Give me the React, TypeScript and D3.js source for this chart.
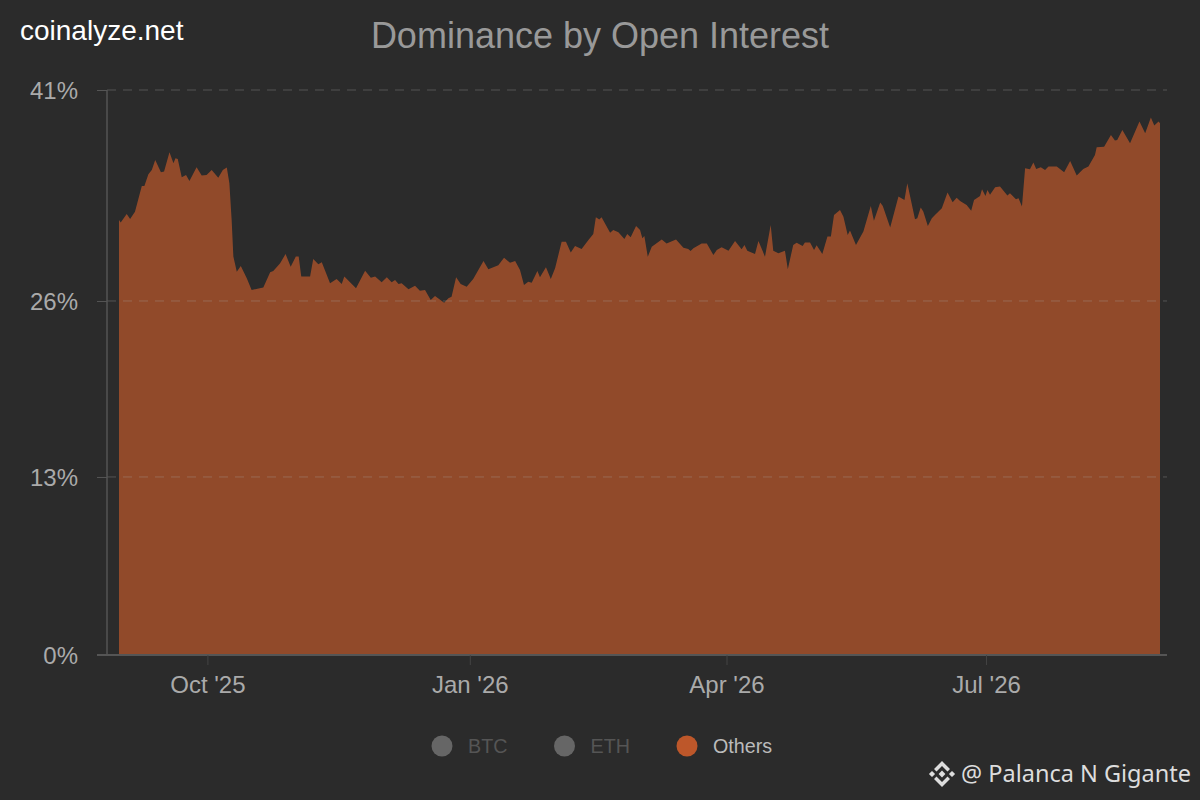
import { useEffect, useRef } from 'react';
import * as d3 from 'd3';

// days since the first sample (31 Aug 2025)
const dayOffsets = [
  0, 0.6, 2.7, 3.9, 5.6, 8, 8.9, 10.3, 11.5, 12.7, 14.7, 15.8, 17.7, 19.1, 19.8, 20.6, 22, 23.5, 24.7, 27.2,
  29, 30.7, 32.5, 34.8, 36.4, 37.8, 38.7, 39.5, 40.1, 41.3, 42.7, 44.8, 46.5, 50.6, 53, 54.1, 56.5, 58.4, 60.2, 62,
  63, 63.9, 67, 68.1, 69.9, 71.1, 74, 76.3, 78.1, 79, 83.1, 86.3, 88.3, 89.8, 92.1, 93.9, 95.6, 96.8, 98, 99.1,
  101.5, 103.8, 105.5, 107.3, 109.3, 110.8, 114, 115.5, 116.6, 118.2, 119.8, 121.9, 124.2, 127.8, 129.5, 133, 135, 137.1, 138.9, 140.6,
  142, 143.5, 144.7, 146.7, 147.6, 149.7, 151.4, 152.9, 155.2, 156.7, 158.4, 159.9, 162.2, 164.6, 166.3, 167.2, 168.4, 169.2, 172.2, 173.3,
  175.1, 177.2, 178.2, 179.4, 181.3, 182.7, 183.5, 184.2, 185.4, 186.8, 190.3, 192, 195.3, 197.9, 199.6, 200.4, 201.4, 204.3, 206.1, 208.4,
  209.6, 211.3, 213.7, 216, 218.3, 219.3, 220.3, 223, 224.2, 226.5, 228.5, 229.4, 231.2, 233.5, 234.5, 236.4, 237.6, 239.7, 240.5, 242.3,
  243.7, 244.6, 246.6, 248.4, 249.6, 250.7, 252.8, 254, 255.5, 256.3, 258.4, 261, 263.6, 264.7, 266.9, 267.8, 270.4, 273.3, 275.4, 276.4,
  279.1, 279.9, 281.1, 282, 283.6, 285, 286.1, 288.5, 290.5, 292.3, 293.7, 294.9, 297.2, 298.8, 299.8, 301.9, 302.6, 303.8, 304.5, 305.4,
  307.2, 308.9, 311.5, 312.4, 314.5, 315.4, 316.6, 317.7, 319.4, 320.6, 321.6, 323.2, 324.7, 325.9, 328.8, 331.4, 333.5, 335.8, 338.1, 339.9,
  342.2, 342.8, 345.4, 347.8, 349.2, 350, 351.8, 354.5, 357.8, 359.8, 361.8, 363, 364.5, 365,
];

// Others' share of open interest, in %
const othersValues = [
  31.57, 31.38, 32, 31.64, 32.17, 34.04, 34.04, 34.88, 35.2, 35.92, 35.03, 35.08, 36.48, 35.68, 36.05, 36, 34.67, 34.84, 34.4, 35.39,
  34.79, 34.84, 35.2, 34.64, 35.2, 35.37, 34.23, 31.57, 28.91, 27.82, 28.23, 27.34, 26.49, 26.66, 27.77, 27.87, 28.43, 29.1, 28.18, 28.91,
  28.91, 27.46, 27.46, 28.74, 28.35, 28.5, 26.97, 27.29, 26.93, 27.46, 26.61, 27.89, 27.38, 27.46, 27.05, 27.41, 27.05, 27.22, 26.93, 26.97,
  26.54, 26.8, 26.44, 26.49, 25.77, 26.05, 25.57, 25.89, 26, 27.41, 26.92, 26.73, 27.28, 28.59, 27.99, 28.28, 28.83, 28.47, 28.59, 27.94,
  26.85, 27.09, 27.02, 27.87, 27.41, 28.13, 27.28, 28.06, 29.99, 29.99, 29.2, 29.68, 29.46, 30.11, 30.55, 31.76, 31.61, 31.76, 30.65, 30.84,
  30.67, 30.19, 30.55, 30.31, 31.13, 30.84, 30.24, 30.4, 28.9, 29.63, 30.16, 29.87, 30.16, 29.56, 29.46, 29.32, 29.51, 29.87, 29.87, 29.03,
  29.39, 29.58, 29.34, 30.04, 29.44, 29.75, 29.34, 29.1, 30.04, 28.9, 31.2, 29.34, 29.15, 29.34, 27.99, 29.75, 29.92, 29.68, 29.94, 29.93,
  29.39, 29.73, 29.1, 30.36, 30.36, 31.93, 32.3, 31.81, 30.48, 30.8, 29.76, 30.73, 32.59, 31.52, 32.83, 32.59, 31.02, 33.27, 33.02, 34.23,
  31.62, 31.69, 32.47, 32.18, 31.14, 31.69, 31.93, 32.42, 33.56, 32.85, 33.19, 32.95, 32.66, 32.23, 33.02, 33.31, 33.8, 33.31, 33.75, 33.39,
  33.94, 33.99, 33.34, 33.51, 33.07, 33.14, 32.54, 35.32, 35.25, 35.73, 35.27, 35.39, 35.2, 35.44, 35.44, 35.03, 35.85, 34.79, 35.27, 35.44,
  36.29, 36.85, 36.89, 37.74, 37.33, 37.38, 38.1, 37.14, 38.71, 37.86, 39, 38.42, 38.71, 38.59,
];

// axis breaks aren't round numbers, the labels get rounded
const yTicks = [0, 12.92, 25.69, 41];
const xTicks = [new Date(Date.UTC(2025, 9, 1)), new Date(Date.UTC(2026, 0, 1)), new Date(Date.UTC(2026, 3, 1)), new Date(Date.UTC(2026, 6, 1))];
const legendItems = ['BTC', 'ETH', 'Others'];
const legendActive = [false, false, true];

const startDate = Date.UTC(2025, 7, 31);
const DAY = 86400000;
const FONT = '"Liberation Sans", Arial, sans-serif';

export default function App() {
  const svgRef = useRef<SVGSVGElement>(null);

  useEffect(() => {
    if (!svgRef.current) return;
    const svg = d3.select(svgRef.current);
    svg.selectAll('*').remove();

    const x = d3.scaleUtc()
      .domain([new Date(startDate), new Date(startDate + 365 * DAY)])
      .range([119, 1160]);
    const y = d3.scaleLinear().domain([0, 41]).range([655, 90]);

    svg.append('rect').attr('width', 1200).attr('height', 800).attr('fill', '#2b2b2b');

    const points = dayOffsets.map((d, i) => ({ date: new Date(startDate + d * DAY), value: othersValues[i] }));

    const area = d3.area<{ date: Date; value: number }>()
      .x(d => x(d.date))
      .y0(y(0))
      .y1(d => y(d.value));

    svg.append('path')
      .datum(points)
      .attr('d', area)
      .attr('fill', '#b8562a')
      .attr('fill-opacity', 0.73);

    // Grid lines
    svg.append('g')
      .selectAll('line')
      .data(yTicks.slice(1))
      .enter().append('line')
      .attr('x1', 107)
      .attr('x2', 1167)
      .attr('y1', d => y(d))
      .attr('y2', d => y(d))
      .attr('stroke', '#aaa')
      .attr('stroke-opacity', 0.33)
      .attr('stroke-dasharray', '9,7');

    // Y Axis
    svg.append('g')
      .attr('transform', 'translate(107,0)')
      .call(d3.axisLeft(y).tickValues(yTicks).tickSize(10).tickPadding(19).tickFormat(d => `${Math.round(+d)}%`))
      .call(g => g.select('.domain').attr('stroke', '#555').attr('stroke-width', 1.5).attr('d', `M0,${y(41)}V${y(0)}`))
      .call(g => g.selectAll('.tick line').attr('stroke', '#555'))
      .call(g => g.selectAll('.tick text')
        .attr('fill', '#aaa')
        .attr('font-size', '24px')
        .attr('dy', '0.36em')
        .attr('font-family', FONT));

    // X Axis
    svg.append('g')
      .attr('transform', 'translate(0,655)')
      .call(d3.axisBottom(x).tickValues(xTicks).tickSize(10).tickPadding(11).tickFormat(d => d3.utcFormat("%b '%y")(d as Date)))
      .call(g => g.select('.domain').attr('stroke', '#555').attr('stroke-width', 2).attr('d', 'M97,0H1167'))
      .call(g => g.selectAll('.tick line').attr('stroke', '#444'))
      .call(g => g.selectAll('.tick text')
        .attr('fill', '#aaa')
        .attr('font-size', '24px')
        .attr('font-family', FONT));

    svg.append('text')
      .attr('x', 600)
      .attr('y', 48)
      .attr('text-anchor', 'middle')
      .attr('fill', '#999')
      .attr('font-size', '36px')
      .attr('font-family', FONT)
      .text('Dominance by Open Interest');

    svg.append('text')
      .attr('x', 20)
      .attr('y', 40)
      .attr('fill', '#fff')
      .attr('font-size', '28px')
      .attr('font-family', FONT)
      .text('coinalyze.net');

    // Legend
    const legend = svg.append('g')
      .selectAll('g')
      .data(legendItems)
      .enter().append('g')
      .attr('transform', (_, i) => `translate(${442 + i * 122.5},746)`);
    legend.append('circle')
      .attr('r', 10.5)
      .attr('fill', (_, i) => (legendActive[i] ? '#bd572a' : '#666'));
    legend.append('text')
      .attr('x', 26)
      .attr('y', 7)
      .attr('fill', (_, i) => (legendActive[i] ? '#bbb' : '#555'))
      .attr('font-size', '19.7px')
      .attr('font-family', FONT)
      .text(d => d);

    // Watermark
    const mark = svg.append('g').attr('transform', 'translate(942,774)').attr('fill', '#ddd');
    mark.selectAll('path')
      .data([0, 180])
      .enter().append('path')
      .attr('d', 'M0,-13L8,-5L5.5,-2.5L0,-8L-5.5,-2.5L-8,-5Z')
      .attr('transform', d => `rotate(${d})`);
    const diamonds = [[-10, 0, 2.2], [10, 0, 2.2], [0, 0, 2.4]];
    mark.selectAll('rect')
      .data(diamonds)
      .enter().append('rect')
      .attr('x', d => -d[2])
      .attr('y', d => -d[2])
      .attr('width', d => d[2] * 2)
      .attr('height', d => d[2] * 2)
      .attr('transform', d => `translate(${d[0]},${d[1]}) rotate(45)`);

    svg.append('text')
      .attr('x', 961)
      .attr('y', 782)
      .attr('fill', '#ddd')
      .attr('font-size', '23.5px')
      .attr('font-family', '"Noto Sans", sans-serif')
      .text('@ Palanca N Gigante');
  }, []);

  return <svg ref={svgRef} width={1200} height={800} style={{ position: 'absolute', left: 0, top: 0 }} />;
}
